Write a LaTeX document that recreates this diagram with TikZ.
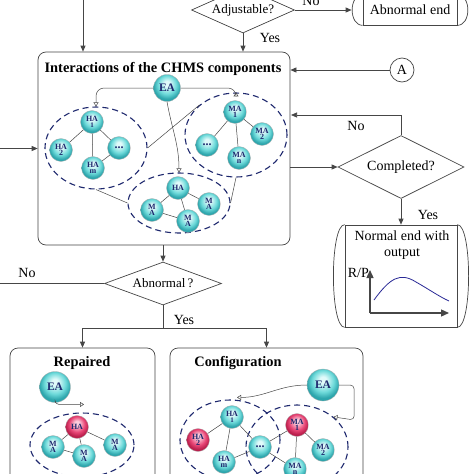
\documentclass[tikz,border=0pt]{standalone}
\usepackage{fontspec}
\setmainfont{Liberation Serif}
\usetikzlibrary{positioning,shapes,arrows.meta}

\definecolor{navy}{RGB}{30,40,110}
\definecolor{linegray}{RGB}{70,70,70}
\definecolor{curveblue}{RGB}{40,40,150}
\definecolor{cyanhi}{RGB}{225,250,250}
\definecolor{cyanmid}{RGB}{110,218,218}
\definecolor{cyanlo}{RGB}{45,165,172}
\definecolor{redhi}{RGB}{252,205,220}
\definecolor{redmid}{RGB}{232,70,118}
\definecolor{redlo}{RGB}{185,30,75}

\pgfdeclareradialshading{cyanglobe}{\pgfqpoint{0bp}{9bp}}{color(0bp)=(cyanhi); color(5bp)=(cyanhi); color(17bp)=(cyanmid); color(25bp)=(cyanlo); color(50bp)=(cyanlo)}
\pgfdeclareradialshading{redglobe}{\pgfqpoint{0bp}{9bp}}{color(0bp)=(redhi); color(5bp)=(redhi); color(17bp)=(redmid); color(25bp)=(redlo); color(50bp)=(redlo)}

\tikzset{
  flow/.style={draw=linegray,line width=0.7pt,-{Triangle[length=6pt,width=5pt]}},
  line/.style={draw=linegray,line width=0.7pt},
  decision/.style={diamond,draw=linegray,line width=0.7pt,inner sep=0pt,aspect=2.4,
    font=\fontsize{13}{14}\selectfont},
  box/.style={draw=linegray,line width=0.7pt,rounded corners=8pt},
  endbox/.style={draw=linegray,line width=0.7pt,inner sep=0pt},
  agent/.style={circle,shading=cyanglobe,draw=gray!60,line width=0.3pt,text=navy,inner sep=0pt,
    align=center,font=\bfseries\fontsize{8}{7.5}\selectfont,minimum size=23pt},
  fault/.style={agent,shading=redglobe},
  bigagent/.style={agent,font=\bfseries\fontsize{11.5}{12}\selectfont},
  cluster/.style={ellipse,draw=navy,line width=1.1pt,dash pattern=on 6pt off 4pt},
  link/.style={draw=linegray,line width=0.5pt},
  hook/.style={draw=linegray,line width=0.5pt,-{Triangle[open,length=4pt,width=5pt]}},
  title/.style={font=\bfseries\fontsize{14.4}{16}\selectfont},
  lbl/.style={font=\fontsize{14}{16}\selectfont},
}

\begin{document}
\begin{tikzpicture}[x=1pt,y=-1pt]
\useasboundingbox (0,0) rectangle (474,474);
\fill[white] (0,0) rectangle (474,474);
\clip (0,0) rectangle (474,474);

% top of the flow
\node[decision,minimum width=103pt,minimum height=46pt] (adj) at (243,10) {Adjustable?};
\node[endbox,minimum width=94pt,minimum height=30pt,lbl] (abn) at (410,10) {Abnormal end};
\draw[line] (abn.north west) .. controls ([xshift=-14pt]abn.north west) and ([xshift=-14pt]abn.south west) .. (abn.south west);
\draw[line] (abn.north east) .. controls ([xshift=14pt]abn.north east) and ([xshift=14pt]abn.south east) .. (abn.south east);
\draw[flow] (adj.east) -- ([xshift=-11pt]abn.west);
\node[lbl] at (311,1) {No};

% interactions box
\node[box,minimum width=252pt,minimum height=193pt] (chms) at (164,148.5) {};
\node[title] (chmstitle) at (163,69) {Interactions of the CHMS components};
\coordinate (in1) at (83,-2);
\coordinate (in2) at (0,148.5);
\draw[flow] (in1) -- (in1 |- chms.north);
\draw[flow] (in2) -- (chms.west);
\draw[flow] (adj.south) -- (adj.south |- chms.north);
\node[lbl] at (270,38) {Yes};
\node[circle,draw=linegray,line width=0.7pt,minimum size=24pt,inner sep=0pt,lbl] (A) at (402,70) {A};
\draw[flow] (A) -- (A -| chms.east);

% agents inside
\node[bigagent,minimum size=27pt] (ea) at (167,88) {EA};
\node[cluster,minimum width=102pt,minimum height=82pt] (lc) at (96,148) {};
\node[cluster,minimum width=102pt,minimum height=84pt] (rc) at (236,135) {};
\node[cluster,minimum width=102pt,minimum height=60pt] (bc) at (179,203) {};
\node[agent] (ha1) at (92,122) {HA\\[-1pt]\scriptsize 1};
\node[agent] (ha2) at (61,150) {HA\\[-1pt]2};
\node[agent] (had) at (119,148) {\large...};
\node[agent] (ham) at (93,168) {HA\\[-1pt]m};
\node[agent] (ma1) at (235,112) {MA\\[-1pt]1};
\node[agent] (ma2) at (262,134) {MA\\[-1pt]2};
\node[agent] (mad) at (207,145) {\large...};
\node[agent] (man) at (239,158) {MA\\[-1pt]n};
\node[agent] (bha) at (178,188) {HA};
\node[agent] (bm1) at (152,210) {M\\[-1pt]A};
\node[agent] (bm2) at (188,221) {M\\[-1pt]A};
\node[agent] (bm3) at (209,204) {M\\[-1pt]A};
\draw[link] (ha1) -- (ha2) (ha1) -- (ham) (ha1) -- (had) (ham) -- (had);
\draw[link] (ma1) -- (mad) (ma1) -- (ma2) (ma1) -- (man);
\draw[link] (bha) -- (bm1) (bha) -- (bm2) (bha) -- (bm3) (bm1) -- (bm2);
\draw[link] (lc.east) -- (rc.north west);
\draw[link] (lc.south) -- (bc.west);
\draw[link] (rc.south) -- (bc.east);
\draw[hook,rounded corners=8pt] (ea.west) -| (lc.north);
\draw[hook,rounded corners=8pt] (ea.east) -| (rc.north);
\draw[hook] (ea.south) to[out=-80,in=90] (bc.north);

% completed?
\node[decision,minimum width=126pt,minimum height=63pt,font=\fontsize{14}{16}\selectfont] (comp) at (401,167) {Completed?};
\coordinate (loop) at (291,115);
\draw[flow] (comp.north) |- (loop);
\node[lbl] at (356,126) {No};
\draw[flow] (chms.east |- comp.west) -- (comp.west);
\node[endbox,minimum width=112pt,minimum height=102pt] (normal) at (401,276) {};
\draw[line] (normal.north west) .. controls ([xshift=-15pt]normal.north west) and ([xshift=-15pt]normal.south west) .. (normal.south west);
\draw[line] (normal.north east) .. controls ([xshift=15pt]normal.north east) and ([xshift=15pt]normal.south east) .. (normal.south east);
\draw[flow] (comp.south) -- (normal.north);
\node[lbl] at (428,215) {Yes};
\node[lbl,align=center] (normaltext) at (402,245) {Normal end with\\output};
\coordinate (orig) at (370,313);
\draw[line,line width=1.3pt,-{Triangle[length=8pt,width=7pt]}] (orig) -- (370,270);
\draw[line,line width=1.3pt,-{Triangle[length=8pt,width=7pt]}] (orig) -- (449,313);
\node[lbl,anchor=east,inner sep=0pt] at (369,273) {R/P};
\draw[curveblue,line width=0.8pt] (374,300) .. controls (390,278) and (400,272) .. (416,282) .. controls (430,290) and (440,297) .. (449,301);

% abnormal?
\node[decision,minimum width=117pt,minimum height=43pt] (abnm) at (163,283.5) {Abnormal\,?};
\draw[flow] (chms.south -| abnm.north) -- (abnm.north);
\coordinate (out2) at (0,283.5);
\draw[line] (abnm.west) -- (out2);
\node[lbl] at (27,273) {No};
\draw[line] (abnm.south) -- ++(0,23) coordinate (split);
\node[lbl] at (184,320) {Yes};
\node[box,minimum width=145pt,minimum height=160pt] (rep) at (82.5,428) {};
\node[box,minimum width=193pt,minimum height=160pt] (conf) at (266.5,428) {};
\draw[flow] (split) -| (rep.north);
\draw[flow] (split) -| (conf.north);
\node[title] (reptitle) at (82,363) {Repaired};
\node[title] (conftitle) at (238,363) {Configuration};

% repaired
\node[bigagent,minimum size=31pt] (ea2) at (55,387) {EA};
\node[cluster,minimum width=104pt,minimum height=64pt] (rcl) at (82,445) {};
\node[fault] (rha) at (77,427) {HA};
\node[agent] (rm1) at (53,447) {M\\[-1pt]A};
\node[agent] (rm2) at (84,456) {M\\[-1pt]A};
\node[agent] (rm3) at (115,445) {M\\[-1pt]A};
\draw[link] (rha) -- (rm1) (rha) -- (rm2) (rha) -- (rm3) (rm1) -- (rm2);
\draw[hook,rounded corners=4pt] (ea2.south) |- ([xshift=2pt,yshift=8pt]rcl.north);

% configuration
\node[bigagent,minimum size=32pt] (ea3) at (323,385) {EA};
\node[cluster,minimum width=100pt,minimum height=80pt] (cl1) at (230,440) {};
\node[cluster,minimum width=102pt,minimum height=84pt] (cl2) at (297,447) {};
\node[agent] (cha1) at (232,417) {HA\\[-1pt]\scriptsize 1};
\node[fault] (cha2) at (198,440) {HA\\[-1pt]2};
\node[agent] (cham) at (224,462) {HA\\[-1pt]m};
\node[agent] (cdot) at (260,447) {\large...};
\node[fault] (cma1) at (297,425) {MA\\[-1pt]1};
\node[agent] (cma2) at (323,450) {MA\\[-1pt]2};
\node[agent] (cman) at (295,469) {MA\\[-1pt]n};
\draw[link] (cha1) -- (cha2) (cha1) -- (cham) (cha1) -- (cdot) (cham) -- (cdot);
\draw[link] (cma1) -- (cdot) (cma1) -- (cman) (cma1) -- (cma2) (cdot) -- (cman);
\draw[hook] (ea3.west) to[out=180,in=0] ([xshift=7pt,yshift=2pt]cl1.north);
\draw[hook,rounded corners=4pt] (ea3.east) -| ++(15,35) -- (cl2.north east);
\end{tikzpicture}
\end{document}
